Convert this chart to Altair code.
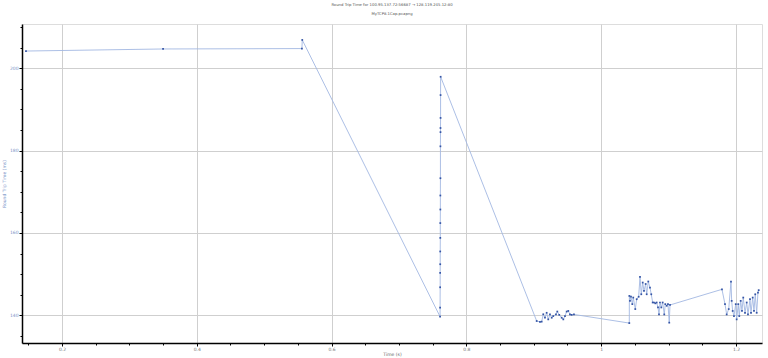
import altair as alt
import pandas as pd

times = [
    0.1466, 0.350, 0.5560, 0.5565,
    0.7610, 0.7610, 0.7611, 0.7611, 0.7612, 0.7612, 0.7613, 0.7613, 0.7614,
    0.7614, 0.7615, 0.7615, 0.7616, 0.7616, 0.7617, 0.7617, 0.7618,
    0.9043, 0.9092, 0.9117, 0.9141, 0.9166, 0.9191, 0.9215, 0.9240, 0.9266,
    0.9289, 0.9329, 0.9349, 0.9378, 0.9414, 0.9438, 0.9463, 0.9488, 0.9512,
    0.9537, 0.9562, 0.9596,
    1.0417, 1.0418, 1.0427, 1.0442, 1.0462, 1.0476, 1.0506, 1.0527, 1.0556,
    1.0576, 1.0595, 1.0616, 1.0635, 1.0660, 1.0675, 1.0699, 1.0724, 1.0743,
    1.0764, 1.0783, 1.0803, 1.0823, 1.0843, 1.0858, 1.0872, 1.0892, 1.0912,
    1.0936, 1.0951, 1.0972, 1.0991, 1.1010, 1.1021,
    1.1792, 1.1837, 1.1862, 1.1892, 1.1926, 1.1936, 1.1951, 1.1970, 1.1996,
    1.2010, 1.2034, 1.2049, 1.2070, 1.2089, 1.2108, 1.2134, 1.2159, 1.2178,
    1.2208, 1.2223, 1.2248, 1.2267, 1.2286, 1.2307, 1.2326, 1.2337,
]
rtts = [
    204.2, 204.7, 204.8, 206.9,
    139.65, 141.85, 146.8, 150.3, 152.4, 155.5, 158.8, 162.4, 165.7,
    169.1, 173.3, 181.05, 184.5, 185.5, 187.95, 193.5, 197.95,
    138.6, 138.4, 138.45, 140.24, 139.4, 140.6, 139.0, 140.2, 139.4,
    139.8, 140.2, 140.9, 140.1, 139.4, 139.0, 139.8, 140.9, 141.05,
    140.2, 140.1, 140.2,
    138.1, 144.7, 143.5, 144.5, 142.7, 144.3, 141.5, 143.9, 144.5,
    149.3, 145.1, 147.95, 145.9, 147.6, 145.1, 148.2, 146.7, 145.1,
    143.1, 143.1, 142.9, 143.1, 141.9, 140.2, 143.1, 141.9, 143.1,
    140.2, 142.7, 142.3, 142.7, 138.2, 142.5,
    146.3, 142.7, 140.2, 141.5, 148.2, 143.5, 141.05, 139.8, 142.7,
    139.0, 142.7, 139.8, 143.5, 141.05, 144.3, 140.6, 143.1, 140.2,
    143.9, 140.6, 144.3, 141.05, 145.1, 140.6, 145.5, 146.1,
]

x_ticks = [0.15, 0.2, 0.25, 0.3, 0.35, 0.4, 0.45, 0.5, 0.55, 0.6, 0.65, 0.7,
           0.75, 0.8, 0.85, 0.9, 0.95, 1.0, 1.05, 1.1, 1.15, 1.2]
y_ticks = [135, 140, 145, 150, 155, 160, 165, 170, 175, 180, 185, 190, 195,
           200, 205, 210]

title_text = "Round Trip Time for 100.95.137.72:56687 \u2192 128.119.245.12:80"
subtitle_text = "MyTCP8.1Cap.pcapng"

df = pd.DataFrame({"t": times, "rtt": rtts, "i": list(range(len(times)))})

xmaj = "abs(datum.value*5 - round(datum.value*5)) < 0.001"
ymaj = "abs(datum.value/20 - round(datum.value/20)) < 0.001"

x_enc = alt.X(
    "t:Q",
    scale=alt.Scale(domain=[0.1407, 1.2386], nice=False, zero=False),
    axis=alt.Axis(
        title="Time (s)", values=x_ticks,
        labelExpr=f"({xmaj}) ? format(datum.value, '~g') : ''",
        gridOpacity=alt.condition(xmaj, alt.value(1), alt.value(0)),
        tickSize=alt.condition(xmaj, alt.value(3), alt.value(2)),
        titleFontSize=4.5, labelFontSize=4.5, titleFont="DejaVu Sans",
        labelFont="DejaVu Sans", titleColor="#666666", labelColor="#777777",
        titleFontWeight="normal", titlePadding=0.5, labelPadding=0.5,
        domainColor="#000000", domainWidth=1.5, tickColor="#000000",
        gridColor="#cfcfcf", gridWidth=1,
    ),
)
y_enc = alt.Y(
    "rtt:Q",
    scale=alt.Scale(domain=[133.26, 210.77], nice=False, zero=False),
    axis=alt.Axis(
        title="Round Trip Time (ms)", values=y_ticks,
        labelExpr=f"({ymaj}) ? format(datum.value, 'd') : ''",
        gridOpacity=alt.condition(ymaj, alt.value(1), alt.value(0)),
        tickSize=alt.condition(ymaj, alt.value(3), alt.value(2)),
        titleFontSize=4.5, labelFontSize=4.5, titleFont="DejaVu Sans",
        labelFont="DejaVu Sans", titleColor="#7b94c8", labelColor="#7b94c8",
        titleFontWeight="normal", titlePadding=3, labelPadding=1,
        domainColor="#000000", domainWidth=1.5, tickColor="#000000",
        gridColor="#cfcfcf", gridWidth=1,
    ),
)

base = alt.Chart(df).encode(x=x_enc, y=y_enc, order="i:Q")
line = base.mark_line(color="#a3b8e2", strokeWidth=0.9)
pts = base.mark_point(shape="square", filled=True, color="#3555a5", size=3, opacity=1)

chart = (
    alt.layer(line, pts)
    .properties(
        width=740,
        height=319,
        title=alt.TitleParams(
            text=title_text, subtitle=subtitle_text, fontSize=3.8,
            subtitleFontSize=3.8, font="DejaVu Sans", subtitleFont="DejaVu Sans",
            fontWeight="normal", color="#555555", subtitleColor="#555555",
            anchor="middle", offset=8, subtitlePadding=5.5,
        ),
        autosize=alt.AutoSizeParams(type="none"),
        padding={"left": 22, "top": 24, "right": 6, "bottom": 15},
    )
    .configure_view(stroke=None)
    .configure(background="white")
)

chart.save("out.html", embed_options={"renderer": "svg", "actions": False})
